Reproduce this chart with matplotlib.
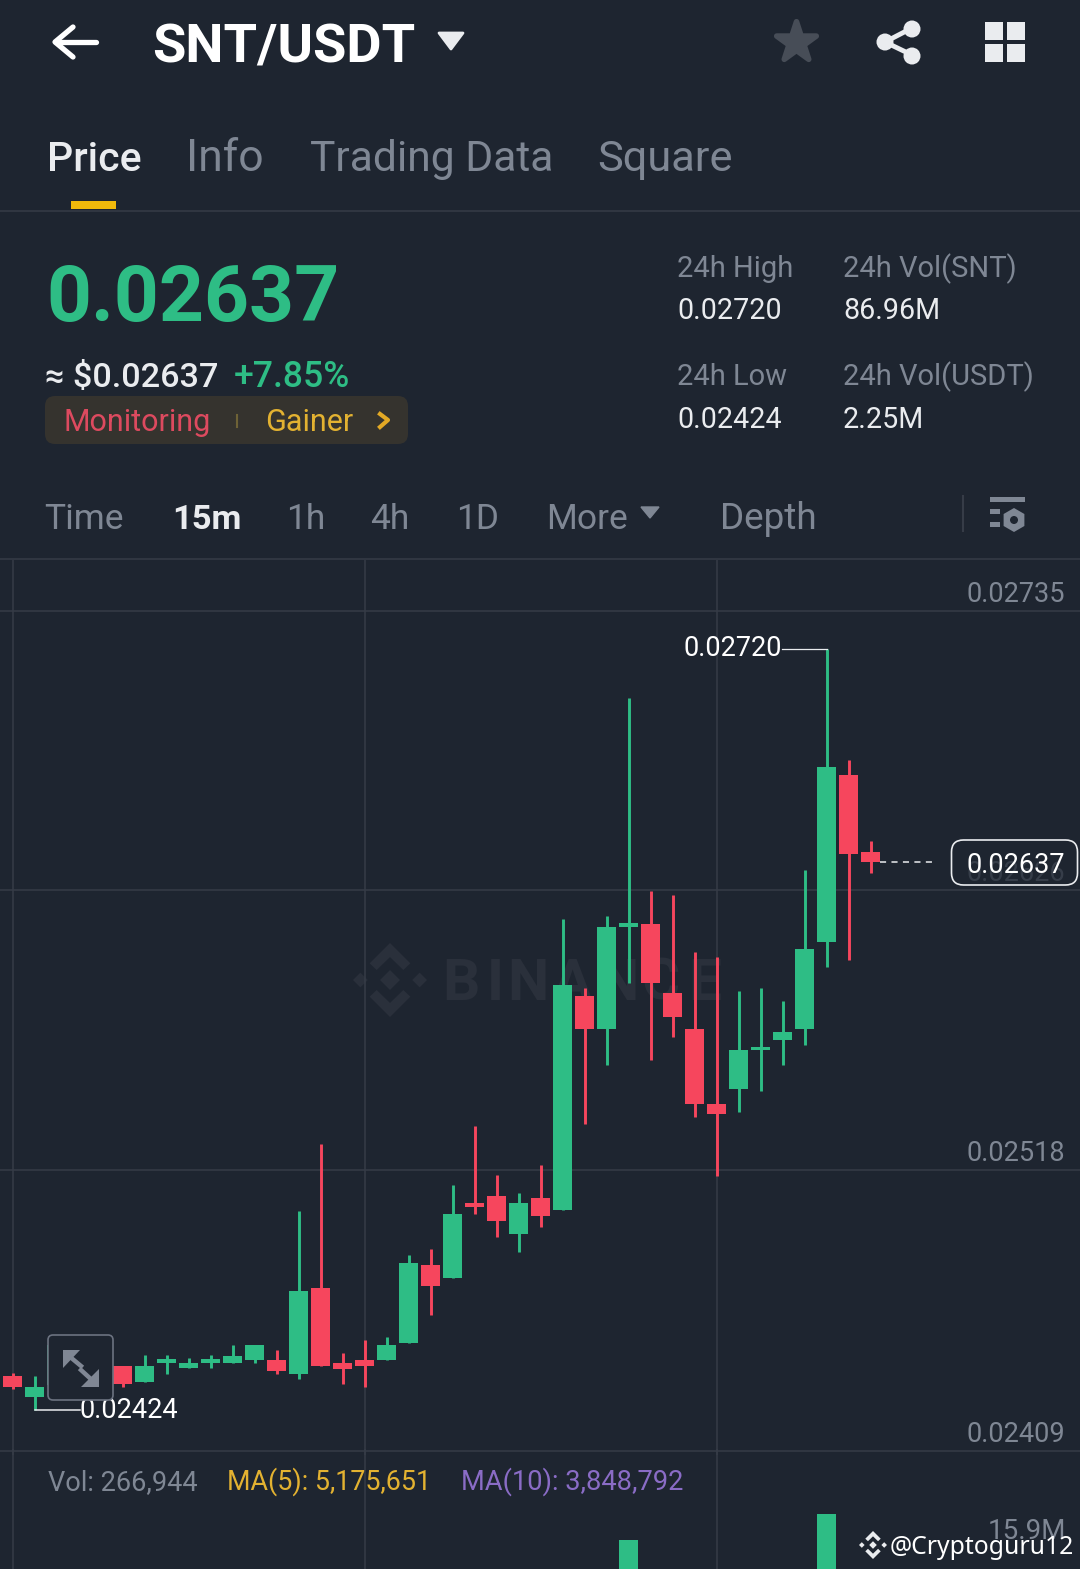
"""
SNT/USDT 15m candles on a dark exchange app screen.
"""
import matplotlib
matplotlib.use('Agg')
import matplotlib.pyplot as plt
from matplotlib.patches import Circle, FancyBboxPatch, Polygon, Rectangle, RegularPolygon

plt.rcParams['font.family'] = ['Roboto', 'DejaVu Sans']

# Candle data
opens = [0.024374, 0.024293, 0.024339, 0.024444, 0.024366, 0.024413, 0.024352, 0.024425, 0.024405, 0.024425,
         0.024424, 0.024435, 0.024435, 0.024383, 0.024716, 0.024424, 0.024435, 0.024435, 0.024503, 0.024805,
         0.024755, 0.025045, 0.025074, 0.024925, 0.025065, 0.025019, 0.025850, 0.025722, 0.026120, 0.026130,
         0.025860, 0.025722, 0.025431, 0.025490, 0.025640, 0.025679, 0.025722, 0.026060, 0.026710, 0.026411]
highs = [0.024385, 0.024374, 0.024514, 0.024475, 0.024455, 0.024413, 0.024455, 0.024455, 0.024444, 0.024455,
         0.024494, 0.024494, 0.024475, 0.025015, 0.025275, 0.024464, 0.024514, 0.024525, 0.024845, 0.024867,
         0.025116, 0.025346, 0.025155, 0.025085, 0.025194, 0.026149, 0.025881, 0.026161, 0.027010, 0.026260,
         0.026243, 0.026021, 0.026002, 0.025870, 0.025881, 0.025831, 0.026340, 0.027200, 0.026769, 0.026451]
lows = [0.024323, 0.024240, 0.024319, 0.024339, 0.024350, 0.024331, 0.024352, 0.024381, 0.024405, 0.024405,
        0.024424, 0.024424, 0.024381, 0.024362, 0.024413, 0.024343, 0.024332, 0.024435, 0.024503, 0.024612,
        0.024755, 0.025003, 0.024914, 0.024856, 0.024954, 0.025019, 0.025353, 0.025582, 0.025902, 0.025602,
        0.025691, 0.025380, 0.025151, 0.025400, 0.025481, 0.025582, 0.025660, 0.025961, 0.025990, 0.026329]
closes = [0.024332, 0.024332, 0.024494, 0.024366, 0.024416, 0.024343, 0.024413, 0.024438, 0.024424, 0.024438,
          0.024453, 0.024494, 0.024393, 0.024704, 0.024413, 0.024402, 0.024413, 0.024494, 0.024814, 0.024723,
          0.025004, 0.025032, 0.024976, 0.025046, 0.024995, 0.025892, 0.025722, 0.026118, 0.026134, 0.025902,
          0.025770, 0.025431, 0.025390, 0.025640, 0.025652, 0.025710, 0.026031, 0.026740, 0.026402, 0.026370]

# only these two volume bars reach into the visible strip
vol_index = [28, 37]
vol_values = [13.4e6, 15.9e6]

# gridlines are evenly spaced, the labels are rounded
price_levels = [0.027346, 0.026261, 0.025173, 0.024083]
price_labels = ['0.02735', '0.02626', '0.02518', '0.02409']
grid_candles = [0, 16, 32]
high_price = 0.02720
low_price = 0.02424
last_price = 0.02637

BG = '#1e2530'
GRID = '#363c47'
GREEN = '#2ebd85'
RED = '#f6465d'
WHITE = '#eaecef'
GRAY = '#7f8794'
YELLOW = '#e3b231'

W, H = 1080, 1569
STEP = 22.0
X0 = 12.7  # pixel x of first candle

fig = plt.figure(figsize=(W / 100, H / 100), dpi=100, facecolor=BG)


def px_axes(y_top, y_bottom, zorder):
    ax = fig.add_axes([0, (H - y_bottom) / H, 1, (y_bottom - y_top) / H], zorder=zorder)
    ax.patch.set_alpha(0)
    ax.set_xlim(-X0 / STEP, (W - X0) / STEP)
    for s in ax.spines.values():
        s.set_visible(False)
    ax.tick_params(length=0, labelbottom=False, labelleft=False)
    return ax


# Overlay axes in screen pixels, one under the candles and one above
back = fig.add_axes([0, 0, 1, 1], zorder=0)
front = fig.add_axes([0, 0, 1, 1], zorder=5)
for a in (back, front):
    a.set_xlim(0, W)
    a.set_ylim(H, 0)
    a.axis('off')
    a.patch.set_alpha(0)


def label(x, y, s, size, color, weight='normal', ha='left', ax=front, **kw):
    return ax.text(x, y, s, fontsize=size, color=color, fontweight=weight, ha=ha, va='baseline', **kw)


def binance_logo(ax, cx, cy, r, color):
    # centre and side diamonds
    for dx, size in [(0, 0.27), (-0.8, 0.2), (0.8, 0.2)]:
        x = cx + dx * r
        s = size * r
        ax.add_patch(Polygon([(x - s, cy), (x, cy - s), (x + s, cy), (x, cy + s)], color=color, lw=0))
    # top and bottom chevrons
    for sign in (-1, 1):
        ax.add_patch(Polygon([(cx, cy + sign * r), (cx + 0.55 * r, cy + sign * 0.45 * r),
                              (cx + 0.36 * r, cy + sign * 0.27 * r), (cx, cy + sign * 0.62 * r),
                              (cx - 0.36 * r, cy + sign * 0.27 * r), (cx - 0.55 * r, cy + sign * 0.45 * r)],
                             color=color, lw=0))


# Price chart, runs a little past the last gridline so that line is not clipped
ax = px_axes(560, 1455, 2)
ax.set_ylim(0.0240667, 0.0275443)
ax.set_yticks(price_levels)
ax.set_xticks(grid_candles)
ax.grid(True, color=GRID, linewidth=1.1)
ax.set_axisbelow(True)

for i, (o, h, l, c) in enumerate(zip(opens, highs, lows, closes)):
    color = GREEN if c >= o else RED
    ax.vlines(i, l, h, color=color, linewidth=2.1, zorder=3)
    ax.bar(i, abs(c - o), bottom=min(o, c), width=0.865, color=color, zorder=3)

for level, text in zip(price_levels, price_labels):
    ax.annotate(text, xy=(1, level), xycoords=('axes fraction', 'data'), xytext=(-11, 12),
                textcoords='offset points', ha='right', va='center', fontsize=19.5, color=GRAY,
                annotation_clip=False)

# High / low callouts
ax.plot([34.95, 37], [high_price, high_price], color=WHITE, linewidth=0.9, zorder=4)
ax.annotate('0.02720', xy=(34.95, high_price), xytext=(0, 0), textcoords='offset points', ha='right',
            va='center', fontsize=19.5, color='white', zorder=6)
ax.plot([1, 3.05], [low_price, low_price], color=WHITE, linewidth=1.1, zorder=4)
ax.annotate('0.02424', xy=(3.02, low_price), xytext=(0, 0), textcoords='offset points', ha='left',
            va='center', fontsize=19.5, color='white', zorder=6)
ax.plot([39.4, 41.95], [last_price, last_price], color=WHITE, linewidth=1.1, linestyle=(0, (4, 3.5)), zorder=4)

# Volume strip
vol = px_axes(1449, H, 2)
vol.set_ylim(10.63e6, 22.13e6)
vol.set_yticks([])
vol.set_xticks(grid_candles)
vol.grid(True, axis='x', color=GRID, linewidth=1.1)
vol.set_axisbelow(True)
vol.bar(vol_index, vol_values, width=0.865, color=GREEN)

# Watermark behind the candles
binance_logo(back, 390, 980, 37, '#2a303b')
for x, letter in zip([442, 487, 507, 553, 597, 642, 688], 'BINANCE'):
    label(x, 1000, letter, 42, '#2a303b', weight='bold', ax=back)

# Header
front.plot([56, 96], [42, 42], color='white', lw=3.8, solid_capstyle='round')
front.plot([73, 55, 73], [27, 42, 57], color='white', lw=3.8, solid_capstyle='round', solid_joinstyle='round')
label(152, 63, 'SNT/USDT', 39, 'white', weight='bold')
front.add_patch(Polygon([(439, 33), (463, 33), (451, 49)], color=WHITE, lw=2, joinstyle='round'))
front.scatter([796], [42], marker='*', s=900, color='#474d57', linewidths=4, edgecolors='#474d57')
front.plot([912, 885, 912], [28, 42, 55], color=WHITE, lw=3.5)
for cx, cy, r in [(912, 29, 8.5), (912, 56, 8.5), (885, 42, 8.5)]:
    front.add_patch(Circle((cx, cy), r, color=WHITE, lw=0))
for x0 in (985, 1007):
    for y0 in (22, 44):
        front.add_patch(Rectangle((x0, y0), 18, 18, color=WHITE, lw=0))

# Tabs
label(47, 171, 'Price', 29.5, WHITE, weight='medium')
label(186, 171, 'Info', 32, GRAY)
label(310, 171, 'Trading Data', 30.7, GRAY)
label(597, 171, 'Square', 31.2, GRAY)
front.add_patch(Rectangle((71, 201), 45, 8, color='#f0b90b', lw=0))
front.plot([0, W], [211, 211], color=GRID, lw=1.1)

# Price block
label(46, 321, '0.02637', 56.5, GREEN, weight='bold')
label(45, 387, '≈ $0.02637', 24.6, WHITE, weight='medium')
label(234, 387, '+7.85%', 25.6, GREEN, weight='medium')
front.add_patch(FancyBboxPatch((45, 396), 363, 48, boxstyle='round,pad=0,rounding_size=10', color='#35332e', lw=0))
label(63, 431, 'Monitoring', 22, '#dd4a5f')
front.plot([237, 237], [415, 427], color='#6e6236', lw=1.5)
label(265, 431, 'Gainer', 22, YELLOW)
front.plot([380, 388, 380], [414, 420, 427], color='#e3a925', lw=3)

for x, y, text, color, size in [(677, 277, '24h High', GRAY, 21), (677, 319, '0.02720', WHITE, 20.6),
                                (843, 277, '24h Vol(SNT)', GRAY, 21), (843, 319, '86.96M', WHITE, 20.6),
                                (677, 385, '24h Low', GRAY, 21), (677, 428, '0.02424', WHITE, 20.6),
                                (843, 385, '24h Vol(USDT)', GRAY, 21), (843, 428, '2.25M', WHITE, 20.6)]:
    label(x, y, text, size, color)

# Interval row
label(44, 529, 'Time', 25.5, GRAY)
label(172, 529, '15m', 24.8, WHITE, weight='bold')
label(286, 529, '1h', 25.5, GRAY)
label(370, 529, '4h', 25.5, GRAY)
label(456.5, 529, '1D', 25.5, GRAY)
label(546, 529, 'More', 25.5, GRAY)
front.add_patch(Polygon([(641, 507), (659, 507), (650, 518)], color=GRAY, lw=1))
label(720, 529, 'Depth', 26.6, GRAY)
front.plot([963, 963], [496, 531], color=GRID, lw=1.5)
front.add_patch(Rectangle((990, 497), 35, 5, color=GRAY, lw=0))
front.add_patch(Rectangle((990, 509), 10, 5, color=GRAY, lw=0))
front.add_patch(Rectangle((990, 522), 10, 5, color=GRAY, lw=0))
front.add_patch(RegularPolygon((1014, 520), 6, radius=12, color=GRAY, lw=0))
front.add_patch(Circle((1014, 520), 4, color=BG, lw=0))
front.plot([0, W], [559, 559], color=GRID, lw=1.1)

# Last price box, the axis label shows through faintly
front.add_patch(FancyBboxPatch((951.5, 840), 126, 45, boxstyle='round,pad=0,rounding_size=12',
                               facecolor=BG, alpha=0.75, edgecolor='none'))
front.add_patch(FancyBboxPatch((951.5, 840), 126, 45, boxstyle='round,pad=0,rounding_size=12',
                               facecolor='none', edgecolor=WHITE, lw=1.2))
label(1064.5, 873, '0.02637', 19.5, 'white', ha='right')

# Expand button over the first candles
front.add_patch(FancyBboxPatch((48, 1335), 65, 65, boxstyle='round,pad=0,rounding_size=5',
                               facecolor=BG, edgecolor='#6b7280', lw=1.2))
front.add_patch(Polygon([(63, 1350), (80, 1350), (63, 1368)], color='#808794', lw=0))
front.add_patch(Polygon([(99, 1387), (99, 1369), (81, 1387)], color='#808794', lw=0))
front.plot([69, 81], [1356, 1366], color='#808794', lw=3.2)
front.plot([93, 81], [1381, 1370], color='#808794', lw=3.2)

# Volume header
label(48, 1490, 'Vol: 266,944', 19.5, GRAY)
label(227, 1490, 'MA(5): 5,175,651', 19.4, YELLOW)
label(461, 1490, 'MA(10): 3,848,792', 19.6, '#8a6cc6')
label(1066, 1539, '15.9M', 20, GRAY, ha='right')

# Repost credit
binance_logo(front, 873, 1545, 14, WHITE)
label(890, 1554, '@Cryptoguru12', 17.8, 'white', family=['Noto Sans', 'DejaVu Sans'])

fig.savefig('out.png', dpi=100, facecolor=BG)
